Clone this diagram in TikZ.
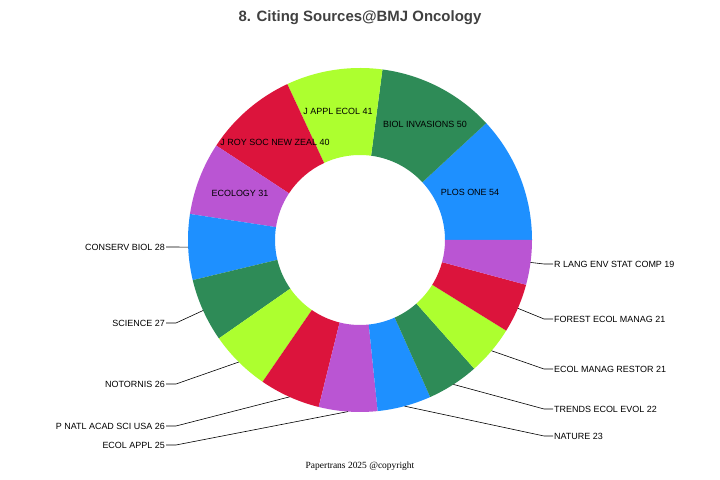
\documentclass[tikz,border=0pt]{standalone}
\usepackage{fontspec}
\setmainfont{Liberation Sans}
\newfontfamily\seriffont{Liberation Serif}
\definecolor{cB}{HTML}{1E90FF}
\definecolor{cG}{HTML}{2E8B57}
\definecolor{cY}{HTML}{ADFF2F}
\definecolor{cR}{HTML}{DC143C}
\definecolor{cP}{HTML}{BA55D3}
\definecolor{tgray}{HTML}{404040}
\begin{document}
\begin{tikzpicture}[x=1bp,y=1bp,
  lbl/.style={font=\fontsize{9}{11}\selectfont,inner sep=1bp},
  leader/.style={draw=black,line width=0.6bp}]
\useasboundingbox (0,0) rectangle (720,480);
\fill[white] (0,0) rectangle (720,480);
\coordinate (c) at (360,240);
\foreach \a/\b/\col in {0/42.8/cB,42.8/82.5/cG,82.5/115.0/cY,115.0/146.7/cR,146.7/171.3/cP,171.3/193.5/cB,193.5/214.9/cG,214.9/235.5/cY,235.5/256.1/cR,256.1/275.9/cP,275.9/294.1/cB,294.1/311.6/cG,311.6/328.2/cY,328.2/344.9/cR,344.9/360/cP}{
  \fill[\col] ([shift={(\a:172bp)}]c) arc (\a:\b:172bp) -- ([shift={(\b:85bp)}]c) arc (\b:\a:85bp) -- cycle;
}
\node[font=\bfseries\fontsize{15}{18}\selectfont,text=tgray] (title) at (360,462) {8. Citing Sources@BMJ Oncology};
\node[font=\seriffont\fontsize{9.5}{11}\selectfont] (foot) at (360,14) {Papertrans 2025 @copyright};
% inside labels
\node[lbl] (plos) at (470,288) {PLOS ONE 54};
\node[lbl] (biol) at (425,356) {BIOL INVASIONS 50};
\node[lbl] (jappl) at (338,369) {J APPL ECOL 41};
\node[lbl] (jroy) at (275,338) {J ROY SOC NEW ZEAL 40};
\node[lbl] (ecol) at (240,287) {ECOLOGY 31};
% outside labels: angle/y/name/side
\foreach \m/\y/\t/\n in {182.4/233/CONSERV BIOL 28/l1,204.2/157/SCIENCE 27/l2,225.2/96/NOTORNIS 26/l3,245.8/54/P NATL ACAD SCI USA 26/l4,266.0/35/ECOL APPL 25/l5}{
  \node[lbl,anchor=east] (\n) at (166,\y) {\t};
  \coordinate (\n p) at ([shift={(\m:172bp)}]c);
  \draw[leader] (\n p) -- (176,\y) -- (\n.east);
}
\foreach \m/\y/\t/\n in {285.0/44/NATURE 23/r1,302.9/71/TRENDS ECOL EVOL 22/r2,319.9/111/ECOL MANAG RESTOR 21/r3,336.6/161/FOREST ECOL MANAG 21/r4,352.5/216/R LANG ENV STAT COMP 19/r5}{
  \node[lbl,anchor=west] (\n) at (553,\y) {\t};
  \coordinate (\n p) at ([shift={(\m:172bp)}]c);
  \draw[leader] (\n p) -- (544,\y) -- (\n.west);
}
\end{tikzpicture}
\end{document}
